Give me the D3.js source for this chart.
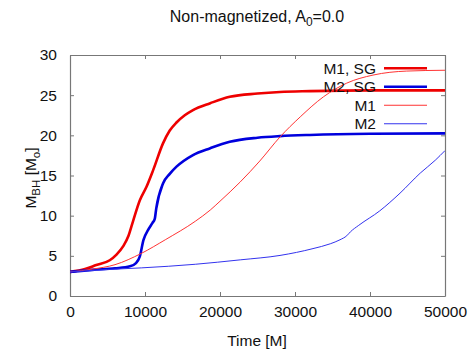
<!DOCTYPE html>
<html><head><meta charset="utf-8">
<script src="https://cdn.jsdelivr.net/npm/d3@7"></script>
<style>body{margin:0;background:#fff}svg{display:block}text{font-family:"Liberation Sans",Arial,sans-serif;fill:#111}</style>
</head><body><svg id="c" width="474" height="355"></svg>
<script>
const titleText = "Non-magnetized, A";
const xTicks = [0, 10000, 20000, 30000, 40000, 50000];
const yTicks = [0, 5, 10, 15, 20, 25, 30];

const m1sgT = [0, 2000, 3500, 5300, 6200, 7100, 7800, 8400, 9300, 10200, 11100, 12400, 13300, 14200, 15300, 16400, 18700, 21300, 25000, 28000, 32000, 40000, 50000];
const m1sgM = [3.0, 3.35, 3.85, 4.45, 5.15, 6.2, 7.5, 9.3, 11.9, 13.6, 15.7, 19.0, 20.6, 21.6, 22.5, 23.15, 24.0, 24.8, 25.2, 25.4, 25.5, 25.6, 25.6];

const m2sgT = [0, 3000, 6000, 8000, 8800, 9300, 9800, 10400, 11000, 11300, 11500, 12400, 13300, 14200, 16400, 18700, 21300, 25000, 28000, 32000, 40000, 50000];
const m2sgM = [3.0, 3.25, 3.45, 3.7, 4.1, 4.9, 7.0, 8.2, 9.1, 9.6, 10.9, 14.0, 15.2, 16.1, 17.55, 18.4, 19.2, 19.7, 19.9, 20.05, 20.2, 20.25];

const m1T = [0, 3000, 6000, 9500, 12700, 16700, 18700, 20000, 22700, 25300, 28000, 30700, 33800, 36900, 40400, 44900, 50000];
const m1M = [3.0, 3.35, 3.9, 5.3, 7.0, 9.3, 10.7, 11.8, 14.2, 16.8, 19.8, 22.3, 24.8, 26.5, 27.5, 28.0, 28.1];

const m2T = [0, 5000, 9500, 16700, 22700, 28000, 32400, 34700, 36000, 36900, 37400, 38500, 41300, 44000, 46700, 48700, 50000];
const m2M = [3.0, 3.3, 3.5, 3.95, 4.5, 5.05, 5.9, 6.5, 7.0, 7.5, 8.0, 8.8, 10.6, 12.8, 15.3, 16.9, 18.1];

const seriesNames = ["M1, SG", "M2, SG", "M1", "M2"];
const seriesColors = ["#ee0000", "#0000dd", "#ff3333", "#3333ee"];
const seriesWidths = [2.6, 2.6, 1, 1];

const svg = d3.select("#c");
const L = 70, R = 445, T = 55, B = 296;
const FS = "15.5px";
const x = d3.scaleLinear().domain([0, 50000]).range([L, R]);
const y = d3.scaleLinear().domain([0, 30]).range([B, T]);

// title
const tt = svg.append("text").attr("x", 257).attr("y", 22).attr("text-anchor", "middle").style("font-size", "16px");
tt.append("tspan").text(titleText);
tt.append("tspan").attr("dy", 4).style("font-size", "12px").text("0");
tt.append("tspan").attr("dy", -4).text("=0.0");

// axes with inward ticks, mirrored
const tl = 4;
const gB = svg.append("g").attr("transform", `translate(0,${B})`).call(d3.axisBottom(x).tickValues(xTicks).tickSizeInner(-tl).tickSizeOuter(0).tickPadding(10).tickFormat(d3.format("d")));
const gT = svg.append("g").attr("transform", `translate(0,${T})`).call(d3.axisTop(x).tickValues(xTicks).tickSizeInner(-tl).tickSizeOuter(0).tickFormat(""));
const gL = svg.append("g").attr("transform", `translate(${L},0)`).call(d3.axisLeft(y).tickValues(yTicks).tickSizeInner(-tl).tickSizeOuter(0).tickPadding(13).tickFormat(d3.format("d")));
const gR = svg.append("g").attr("transform", `translate(${R},0)`).call(d3.axisRight(y).tickValues(yTicks).tickSizeInner(-tl).tickSizeOuter(0).tickFormat(""));
[gB, gT, gL, gR].forEach(g => {
  g.select(".domain").attr("stroke", "#777").attr("stroke-width", 1.2);
  g.selectAll(".tick line").attr("stroke", "#777");
  g.selectAll("text").style("font-size", FS).attr("fill", "#111").style("font-family", '"Liberation Sans",Arial,sans-serif');
});

// axis titles
svg.append("text").attr("x", 257).attr("y", 346).attr("text-anchor", "middle").style("font-size", FS).text("Time [M]");
const yl = svg.append("text").attr("transform", "translate(36,178) rotate(-90)").attr("text-anchor", "middle").style("font-size", FS);
yl.append("tspan").text("M");
yl.append("tspan").attr("dy", 4).style("font-size", "11.5px").text("BH");
yl.append("tspan").attr("dy", -4).text(" [M");
yl.append("tspan").attr("dy", 4).style("font-size", "11.5px").text("o");
yl.append("tspan").attr("dy", -4).text("]");

// curves
const data = [[m1sgT, m1sgM], [m2sgT, m2sgM], [m1T, m1M], [m2T, m2M]];
const line = d3.line().x(d => x(d[0])).y(d => y(d[1])).curve(d3.curveMonotoneX);
svg.append("clipPath").attr("id", "pc").append("rect").attr("x", L).attr("y", T).attr("width", R - L).attr("height", B - T);
data.forEach((s, i) => {
  const pts = s[0].map((t, j) => [t, s[1][j]]);
  svg.append("path").datum(pts).attr("d", line).attr("fill", "none")
    .attr("stroke", seriesColors[i]).attr("stroke-width", seriesWidths[i]).attr("clip-path", "url(#pc)");
});

// legend
const ly = d3.scaleBand().domain(seriesNames).range([59, 133]);
seriesNames.forEach((n, i) => {
  const yy = ly(n) + ly.bandwidth() / 2;
  svg.append("text").attr("x", 376).attr("y", yy + 5.5).attr("text-anchor", "end").style("font-size", FS).text(n);
  svg.append("line").attr("x1", 384).attr("x2", 427).attr("y1", yy).attr("y2", yy)
    .attr("stroke", seriesColors[i]).attr("stroke-width", seriesWidths[i]);
});
</script></body></html>
